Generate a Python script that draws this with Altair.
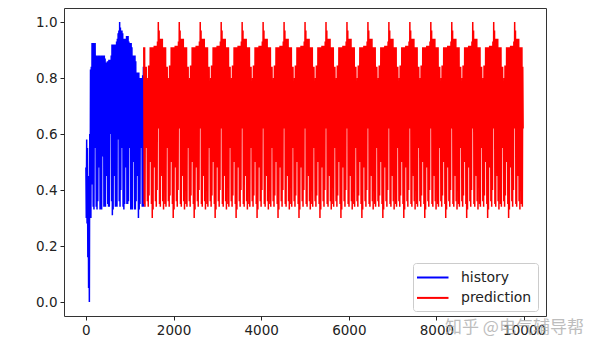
import altair as alt
import pandas as pd

# ---- data ----
series_names = ["history", "prediction"]
series_colors = ["#0000ff", "#ff0000"]

# history: start values (x = 0 .. 96, step 8.75) then high/low pairs from x = 105
hist_step = 8.75
hist_start_values = [0.48, 0.30, 0.58, 0.28, 0.55, 0.16, 0.45, 0.05, 0.40, 0.00, 0.60, 0.30]
hist_highs = [
    0.83, 0.84, 0.925, 0.925, 0.925, 0.92, 0.925, 0.88, 0.88, 0.87,
    0.88, 0.88, 0.88, 0.86, 0.88, 0.88, 0.88, 0.88, 0.88, 0.87,
    0.855, 0.855, 0.86, 0.86, 0.865, 0.865, 0.865, 0.88, 0.92, 0.92,
    0.92, 0.92, 0.92, 0.92, 0.93, 0.94, 0.96, 0.97, 1.00, 0.98,
    0.97, 0.97, 0.96, 0.94, 0.94, 0.94, 0.94, 0.95, 0.95, 0.95,
    0.93, 0.925, 0.925, 0.925, 0.91, 0.88, 0.88, 0.88, 0.88, 0.86,
    0.82, 0.82, 0.82, 0.82, 0.80, 0.80, 0.80, 0.80, 0.81, 0.84,
]
hist_lows = [
    0.30, 0.42, 0.50, 0.34, 0.33, 0.55, 0.60, 0.34, 0.33, 0.36,
    0.48, 0.58, 0.33, 0.35, 0.33, 0.52, 0.62, 0.34, 0.36, 0.34,
    0.45, 0.55, 0.35, 0.34, 0.34, 0.60, 0.66, 0.36, 0.31, 0.33,
    0.50, 0.45, 0.34, 0.35, 0.34, 0.58, 0.62, 0.36, 0.34, 0.40,
    0.55, 0.64, 0.34, 0.33, 0.35, 0.48, 0.57, 0.35, 0.35, 0.36,
    0.62, 0.55, 0.33, 0.34, 0.33, 0.50, 0.60, 0.33, 0.33, 0.36,
    0.45, 0.58, 0.30, 0.33, 0.35, 0.55, 0.62, 0.34, 0.36, 0.34,
]

# prediction: one period (high/low pairs) of the periodic forecast
pred_start = 1321.0
pred_step = 9.2
pred_cycle_highs = [
    0.91, 0.91, 0.84, 0.84, 0.78, 0.80, 0.845, 0.845, 0.91, 0.91,
    0.91, 0.91, 0.91, 0.915, 0.915, 0.915, 0.915, 0.93, 1.00, 0.97,
    0.94, 0.94, 0.94, 0.94, 0.91, 0.91,
]
pred_cycle_lows = [
    0.35, 0.34, 0.55, 0.60, 0.36, 0.34, 0.38, 0.50, 0.62, 0.35,
    0.30, 0.33, 0.48, 0.58, 0.36, 0.34, 0.40, 0.66, 0.62, 0.35,
    0.34, 0.52, 0.45, 0.36, 0.33, 0.56,
]
pred_cycles = 18
pred_tail = [0.91, 0.35, 0.91, 0.34, 0.84, 0.62]

x_ticks = [0, 2000, 4000, 6000, 8000, 10000]
y_ticks = [0.0, 0.2, 0.4, 0.6, 0.8, 1.0]
watermark = "知乎 @电气辅导帮"

# ---- build table ----
hist_values = list(hist_start_values)
for h, l in zip(hist_highs, hist_lows):
    hist_values += [h, l]
cycle = []
for h, l in zip(pred_cycle_highs, pred_cycle_lows):
    cycle += [h, l]
pred_values = cycle * pred_cycles + pred_tail

rows = []
for i, v in enumerate(hist_values):
    rows.append({"x": i * hist_step, "y": v, "series": "history"})
for i, v in enumerate(pred_values):
    rows.append({"x": pred_start + i * pred_step, "y": v, "series": "prediction"})
df = pd.DataFrame(rows)

font = "DejaVu Sans"

lines = alt.Chart(df).mark_line(strokeWidth=1.5, clip=True).encode(
    x=alt.X("x:Q", scale=alt.Scale(domain=[-500, 10500], nice=False, zero=False),
            axis=alt.Axis(values=x_ticks, format="d", title=None, grid=False,
                          domain=False, tickSize=4, tickColor="#222",
                          labelColor="#222", labelFontSize=13.5, labelFont=font,
                          labelPadding=3, labelFlush=False)),
    y=alt.Y("y:Q", scale=alt.Scale(domain=[-0.05, 1.05], nice=False, zero=False),
            axis=alt.Axis(values=y_ticks, format=".1f", title=None, grid=False,
                          domain=False, tickSize=4, tickColor="#222",
                          labelColor="#222", labelFontSize=13.5, labelFont=font,
                          labelPadding=3)),
    color=alt.Color("series:N",
                    scale=alt.Scale(domain=series_names, range=series_colors),
                    legend=alt.Legend(title=None, orient="none", legendX=349, legendY=255,
                                      symbolType="M-1.4,0L2.8,0", symbolSize=225,
                                      symbolStrokeWidth=2, labelFontSize=14,
                                      labelFont=font, labelColor="#222",
                                      labelOffset=25, rowPadding=4.4, padding=6,
                                      fillColor="white", strokeColor="#cccccc",
                                      cornerRadius=3)),
    order="x:Q",
)

wm = alt.Chart(pd.DataFrame({"t": [watermark]})).mark_text(
    font="Noto Sans CJK SC", fontSize=17, color="#a8a8a8", opacity=0.75,
    align="left", baseline="middle"
).encode(text="t:N", x=alt.value(381), y=alt.value(320))

chart = alt.layer(lines, wm).properties(
    width=482, height=308,
    autosize=alt.AutoSizeParams(type="none"),
    padding={"left": 56, "top": 0, "right": 44, "bottom": 39},
).configure_view(stroke="#333", strokeWidth=1)

chart.save("out.html", embed_options={"renderer": "svg", "actions": False})
